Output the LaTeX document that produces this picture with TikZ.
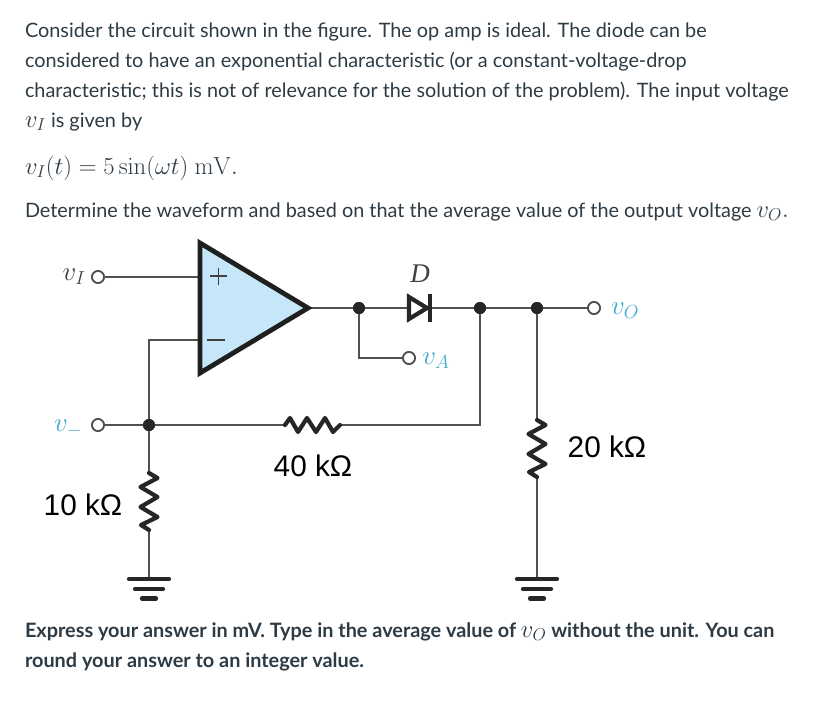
\documentclass[tikz,border=0pt]{standalone}
\usepackage{fix-cm}
\usepackage[no-math]{fontspec}
\setmainfont{Lato}
\newfontfamily\labfont{Liberation Sans}
\newfontfamily\dfont{Liberation Serif}
\usetikzlibrary{calc}
\definecolor{bodytext}{HTML}{2D3B45}
\definecolor{wirecol}{HTML}{505050}
\definecolor{cyanlab}{HTML}{3FAAD0}
\definecolor{amppfill}{HTML}{C6E7F9}
\newcommand{\bmath}[1]{{\fontsize{24.6}{24}\selectfont$#1$}}
\tikzset{
  x=1pt,y=-1pt,
  txt/.style={anchor=base west,inner sep=0pt,outer sep=0pt,text=bodytext,font=\fontsize{19.85}{24}\selectfont},
  btxt/.style={txt,font=\fontsize{19.85}{24}\selectfont\bfseries},
  wire/.style={draw=wirecol,line width=1.8pt,line join=miter},
  term/.style={circle,draw=wirecol,fill=white,line width=1.7pt,minimum size=12pt,inner sep=0pt},
  junc/.style={circle,fill=black!85,minimum size=12pt,inner sep=0pt},
  resline/.style={draw=black!85,line width=4.2pt,line join=round,line cap=round},
  ampline/.style={draw=black!88,line width=4.8pt,line join=miter,fill=amppfill},
  gnd/.style={draw=black!85,line width=4.2pt,line cap=round},
  value/.style={inner sep=0pt,text=black,font=\labfont\fontsize{29.8}{32}\selectfont},
  vlab/.style={inner sep=0pt,text=black!75,font=\fontsize{27}{30}\selectfont},
  clab/.style={vlab,text=cyanlab},
  vres/.pic={\draw[resline] (0,0)--(8.5,5)--(-8.5,14)--(8.5,24)--(-8.5,34)--(8.5,44)--(-8,52)--(0,57);},
  hres/.pic={\draw[resline] (0,0)--(5,-7)--(13,7)--(22,-7)--(31,7)--(40,-7)--(48,7)--(55,0);},
  grnd/.pic={
    \draw[gnd] (-20,0)--(20,0);
    \draw[gnd] (-14,10)--(14,10);
    \draw[gnd] (-7,19.5)--(7,19.5);}
}
\begin{document}
\begin{tikzpicture}
\useasboundingbox[fill=white] (0,0) rectangle (825,707);
% text
\node[txt] (t1) at (25,37) {Consider the circuit shown in the figure. The op amp is ideal. The diode can be};
\node[txt] (t2) at (25,67) {considered to have an exponential characteristic (or a constant-voltage-drop};
\node[txt] (t3) at (25,97) {characteristic; this is not of relevance for the solution of the problem). The input voltage};
\node[txt] (t4) at (25,127) {\bmath{v_I} is given by};
\node[txt] (t5) at (25,174) {\bmath{v_I(t)=5\sin(\omega t)\ \mathrm{mV}.}};
\node[txt] (t6) at (25,217) {Determine the waveform and based on that the average value of the output voltage \bmath{v_O.}};
\node[btxt] (t7) at (25,637) {Express your answer in mV. Type in the average value of \bmath{v_O} without the unit. You can};
\node[btxt] (t8) at (25,667) {round your answer to an integer value.};
% op amp
\coordinate (plus) at (200,277);
\coordinate (minus) at (200,340);
\coordinate (out) at (308,308);
% nodes
\node[term] (vi) at (98,277) {};
\node[term] (vm) at (98,425) {};
\node[junc] (jm) at (149,425) {};
\node[junc] (ja) at (359,308) {};
\node[junc] (jb) at (480,308) {};
\node[junc] (jc) at (537,308) {};
\node[term] (vo) at (594,308) {};
\node[term] (va) at (409,358) {};
\coordinate (r40l) at (285,425);
\coordinate (r40r) at (340,425);
\coordinate (r20t) at (537,420);
\coordinate (r20b) at (537,477);
\coordinate (r10t) at (149,473);
\coordinate (r10b) at (149,530);
\coordinate (g10) at (149,579);
\coordinate (g20) at (537,579);
\coordinate (dl) at (408,308);
\coordinate (dr) at (430,308);
% wires
\draw[wire] (vi) -- (plus);
\draw[wire] (minus) -| (jm);
\draw[wire] (out) -- (ja) -- (dl);
\draw[wire] (dr) -- (jb) -- (jc) -- (vo);
\draw[wire] (ja) |- (va);
\draw[wire] (vm) -- (jm) -- (r40l);
\draw[wire] (r40r) -- ++(140,0) -- (jb);
\draw[wire] (jc) -- (r20t);
\draw[wire] (r20b) -- (g20);
\draw[wire] (jm) -- (r10t);
\draw[wire] (r10b) -- (g10);
% re-stack terminals and junctions
\node[term] at (vi) {};
\node[term] at (vm) {};
\node[term] at (vo) {};
\node[term] at (va) {};
\node[junc] at (jm) {};
\node[junc] at (ja) {};
\node[junc] at (jb) {};
\node[junc] at (jc) {};
% amp body
\draw[ampline] (200,243) -- (out) -- (200,373) -- cycle;
\draw[line width=1.2pt,draw=black!75] (210,276) -- (227,276) (218.5,267.5) -- (218.5,284.5);
\draw[line width=1.2pt,draw=black!75] (207,340) -- (225,340);
% diode
\draw[draw=black!85,line width=4.2pt,line join=miter] (409,297) -- (427,308) -- (409,319) -- cycle;
\draw[draw=black!85,line width=4.2pt] (430,294) -- (430,322);
% passive parts
\pic at (r40l) {hres};
\pic at (r20t) {vres};
\pic at (r10t) {vres};
\pic at (g10) {grnd};
\pic at (g20) {grnd};
% labels
\node[vlab] (lvi) at (74,277) {$v_I$};
\node[clab] (lvm) at (68,428) {$v_-$};
\node[clab] (lva) at (436,361) {$v_A$};
\node[clab] (lvo) at (625,311) {$v_O$};
\node[vlab] (ld) at (420,274) {\dfont\itshape D};
\node[value] (l10) at (83,505) {10 k\symbol{"03A9}};
\node[value] (l40) at (313,466) {40 k\symbol{"03A9}};
\node[value] (l20) at (607,447) {20 k\symbol{"03A9}};
\end{tikzpicture}
\end{document}
